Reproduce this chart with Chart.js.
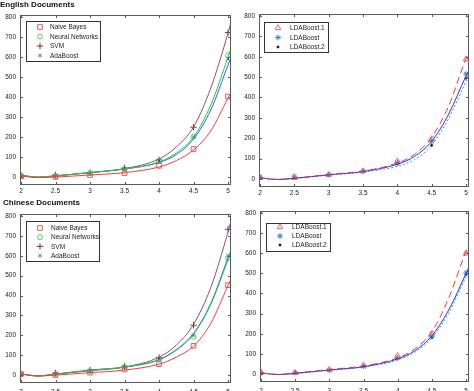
<!DOCTYPE html>
<html>
<head>
<meta charset="utf-8">
<script src="https://cdn.jsdelivr.net/npm/chart.js@4.4.1/dist/chart.umd.min.js"></script>
<style>
html, body { margin: 0; padding: 0; background: #fff; }
#page { position: relative; width: 474px; height: 391px; overflow: hidden; background: #fff; }
.panel { position: absolute; }
.title { position: absolute; font: bold 8px "Liberation Sans", Arial, sans-serif; color: #111; z-index: 2; }
</style>
</head>
<body>
<div id="page">
  <div class="title" style="left:0px;top:0px">English Documents</div>
  <div class="title" style="left:3px;top:198px">Chinese Documents</div>
  <div class="panel" style="left:0px;top:0px;width:237px;height:200px"><canvas id="enBase"></canvas></div>
  <div class="panel" style="left:237px;top:0px;width:237px;height:200px"><canvas id="enLda"></canvas></div>
  <div class="panel" style="left:0px;top:195px;width:237px;height:196px"><canvas id="zhBase"></canvas></div>
  <div class="panel" style="left:237px;top:195px;width:237px;height:196px"><canvas id="zhLda"></canvas></div>
</div>
<script>
const xMarks = [2, 2.5, 3, 3.5, 4, 4.5, 5];
const xCurve = [2, 2.25, 2.5, 3, 3.5, 4, 4.25, 4.5, 4.75, 5, 5.04];
const yTicks = [0, 100, 200, 300, 400, 500, 600, 700, 800];

// English documents, baseline classifiers
const nbEnMarks  = [3, 0, 10, 20, 56, 140, 402];
const nnEnMarks  = [5, 5, 20, 40, 80, 202, 609];
const svmEnMarks = [8, 10, 22, 45, 86, 249, 722];
const adaEnMarks = [5, 8, 20, 40, 80, 200, 590];
const nbEnCurve  = [5, -3, 0, 10, 22, 50, 82, 135, 230, 395, 420];
const nnEnCurve  = [8, 0, 6, 22, 40, 75, 120, 200, 360, 600, 640];
const svmEnCurve = [8, -2, 5, 22, 42, 90, 150, 250, 445, 720, 770];
const adaEnCurve = [8, 0, 6, 22, 40, 72, 112, 190, 335, 560, 595];

// English documents, LDABoost variants
const lda1EnMarks = [5, 5, 20, 38, 87, 196, 588];
const ldaEnMarks  = [10, 13, 20, 38, 80, 185, 516];
const lda2EnMarks = [8, 5, 18, 35, 73, 165, 495];
const lda1EnCurve = [5, -3, 3, 22, 38, 78, 120, 205, 360, 590, 615];
const ldaEnCurve  = [5, -3, 3, 20, 36, 72, 110, 185, 320, 505, 530];
const lda2EnCurve = [5, -3, 2, 18, 33, 62, 95, 165, 300, 480, 510];

// Chinese documents, baseline classifiers
const nbZhMarks  = [5, 0, 12, 28, 55, 147, 452];
const nnZhMarks  = [5, 5, 20, 40, 80, 192, 589];
const svmZhMarks = [5, 10, 25, 45, 88, 251, 733];
const adaZhMarks = [5, 8, 22, 40, 80, 200, 600];
const nbZhCurve  = [5, -5, 0, 12, 25, 55, 90, 145, 260, 450, 480];
const nnZhCurve  = [5, -4, 4, 24, 40, 76, 125, 205, 355, 580, 615];
const svmZhCurve = [5, -5, 5, 22, 40, 90, 150, 255, 440, 720, 770];
const adaZhCurve = [5, -4, 5, 25, 40, 78, 128, 210, 360, 590, 625];

// Chinese documents, LDABoost variants
const lda1ZhMarks = [8, 5, 22, 42, 90, 200, 599];
const ldaZhMarks  = [5, 8, 18, 38, 80, 187, 502];
const lda2ZhMarks = [5, 5, 18, 35, 78, 180, 495];
const lda1ZhCurve = [5, -2, 5, 22, 40, 80, 125, 210, 380, 610, 640];
const ldaZhCurve  = [5, -3, 3, 20, 36, 75, 115, 190, 320, 500, 530];
const lda2ZhCurve = [5, -3, 2, 18, 34, 70, 108, 180, 305, 485, 515];

const FONT = '"Liberation Sans", Arial, sans-serif';

// marker / line style of every series
const STYLES = {
    nb:   { label: 'Naive Bayes',     line: '#ff3838', mark: '#e65a5a', point: 'rect',     r: 3.3, fill: 'rgba(0,0,0,0)' },
    nn:   { label: 'Neural Networks', line: '#20c840', mark: '#50d070', point: 'circle',   r: 2.5, fill: 'rgba(0,0,0,0)' },
    svm:  { label: 'SVM',             line: '#94506a', mark: '#7a3424', point: 'cross',    r: 3.2, fill: 'rgba(0,0,0,0)' },
    ada:  { label: 'AdaBoost',        line: '#3060f0', mark: '#3848b8', point: 'crossRot', r: 2.3, fill: 'rgba(0,0,0,0)' },
    lda1: { label: 'LDABoost.1',      line: '#ee3535', mark: '#e86a6a', point: 'triangle', r: 3.3, fill: 'rgba(0,0,0,0)', dash: [7, 4] },
    lda:  { label: 'LDABoost',        line: '#2536e8', mark: '#3a84d4', point: 'star',     r: 2.8, fill: 'rgba(0,0,0,0)' },
    lda2: { label: 'LDABoost.2',      line: '#3a98ea', mark: '#111111', point: 'circle',   r: 1,   fill: '#111111', dash: [2, 2] }
};

function pts(xs, ys) {
    return xs.map((x, i) => ({ x: x, y: ys[i] }));
}

function buildDatasets(series) {
    var lines = [];
    var marks = [];
    for (var s of series) {
        var st = STYLES[s.key];
        lines.push({
            label: st.label + ' fit',
            data: pts(xCurve, s.curve),
            showLine: true,
            pointRadius: 0,
            borderColor: st.line,
            borderWidth: 1,
            borderDash: st.dash || [],
            cubicInterpolationMode: 'monotone',
            fill: false
        });
        marks.push({
            label: st.label,
            data: pts(xMarks, s.marks),
            showLine: false,
            pointStyle: st.point,
            pointRadius: st.r,
            pointBorderWidth: 1,
            borderColor: st.mark,
            backgroundColor: st.fill
        });
    }
    return lines.concat(marks);
}

// box round the plot with inward ticks on all four sides
const framePlugin = {
    id: 'frame',
    afterDatasetsDraw(chart) {
        const ctx = chart.ctx;
        const a = chart.chartArea;
        const xs = chart.scales.x;
        const ys = chart.scales.y;
        ctx.save();
        ctx.strokeStyle = '#5a5a5a';
        ctx.lineWidth = 1;
        ctx.strokeRect(a.left + 0.5, a.top + 0.5, a.right - a.left - 1, a.bottom - a.top - 1);
        ctx.beginPath();
        for (var t of xs.ticks) {
            var px = Math.round(xs.getPixelForValue(t.value)) + 0.5;
            ctx.moveTo(px, a.bottom); ctx.lineTo(px, a.bottom - 3);
            ctx.moveTo(px, a.top); ctx.lineTo(px, a.top + 3);
        }
        for (var t of ys.ticks) {
            var py = Math.round(ys.getPixelForValue(t.value)) + 0.5;
            ctx.moveTo(a.left, py); ctx.lineTo(a.left + 3, py);
            ctx.moveTo(a.right, py); ctx.lineTo(a.right - 3, py);
        }
        ctx.stroke();
        ctx.restore();
    }
};

// matlab style legend box inside the plot
const boxLegendPlugin = {
    id: 'boxLegend',
    afterDraw(chart, args, opts) {
        if (!opts || !opts.keys) return;
        const ctx = chart.ctx;
        ctx.save();
        ctx.fillStyle = '#fff';
        ctx.fillRect(opts.x, opts.y, opts.w, opts.h);
        ctx.strokeStyle = '#333';
        ctx.lineWidth = 1;
        ctx.strokeRect(opts.x + 0.5, opts.y + 0.5, opts.w, opts.h);
        ctx.font = '6.5px ' + FONT;
        ctx.textBaseline = 'middle';
        opts.keys.forEach((key, i) => {
            var st = STYLES[key];
            var cy = opts.rowY + i * opts.rowH;
            ctx.strokeStyle = st.mark;
            ctx.fillStyle = st.fill;
            ctx.lineWidth = 1;
            if (Chart.helpers && Chart.helpers.drawPoint) {
                Chart.helpers.drawPoint(ctx, { pointStyle: st.point, radius: st.r, borderWidth: 1, rotation: 0 }, opts.markX, cy);
            } else {
                ctx.beginPath(); ctx.arc(opts.markX, cy, st.r, 0, Math.PI * 2); ctx.stroke();
            }
            ctx.fillStyle = '#222';
            ctx.fillText(st.label, opts.textX, cy + 0.5);
        });
        ctx.restore();
    }
};

function makePanel(canvasId, geom, series, legend) {
    return new Chart(document.getElementById(canvasId), {
        type: 'scatter',
        data: { datasets: buildDatasets(series) },
        plugins: [framePlugin, boxLegendPlugin],
        options: {
            responsive: true,
            maintainAspectRatio: false,
            animation: false,
            devicePixelRatio: 1,
            layout: { padding: { left: 0, top: geom.padT, right: geom.padR, bottom: 0 } },
            plugins: {
                legend: { display: false },
                tooltip: { enabled: false },
                boxLegend: legend
            },
            scales: {
                x: {
                    type: 'linear',
                    min: geom.xMin,
                    max: geom.xMax,
                    grid: { display: false, drawTicks: false },
                    border: { display: false },
                    ticks: {
                        stepSize: 0.5,
                        includeBounds: false,
                        autoSkip: false,
                        maxRotation: 0,
                        padding: geom.xPad,
                        color: '#222',
                        font: { family: FONT, size: 6.5 },
                        callback: v => String(v)
                    },
                    afterFit: s => { s.height = geom.xH; }
                },
                y: {
                    min: -40,
                    max: 810,
                    grid: { display: false, drawTicks: false },
                    border: { display: false },
                    afterBuildTicks: s => { s.ticks = yTicks.map(v => ({ value: v })); },
                    ticks: {
                        padding: 4,
                        color: '#222',
                        font: { family: FONT, size: 6.5 },
                        callback: v => String(v)
                    },
                    afterFit: s => { s.width = geom.yW; }
                }
            }
        }
    });
}

makePanel('enBase',
    { yW: 20, padT: 15, padR: 6, xH: 15, xPad: 2, xMin: 1.985, xMax: 5.043 },
    [
        { key: 'nb', marks: nbEnMarks, curve: nbEnCurve },
        { key: 'nn', marks: nnEnMarks, curve: nnEnCurve },
        { key: 'svm', marks: svmEnMarks, curve: svmEnCurve },
        { key: 'ada', marks: adaEnMarks, curve: adaEnCurve }
    ],
    { keys: ['nb', 'nn', 'svm', 'ada'], x: 26, y: 21, w: 74, h: 40, rowY: 27, rowH: 9.5, markX: 40, textX: 50 });

makePanel('enLda',
    { yW: 22, padT: 14, padR: 0, xH: 13, xPad: 2, xMin: 1.986, xMax: 5.043 },
    [
        { key: 'lda1', marks: lda1EnMarks, curve: lda1EnCurve },
        { key: 'lda', marks: ldaEnMarks, curve: ldaEnCurve },
        { key: 'lda2', marks: lda2EnMarks, curve: lda2EnCurve }
    ],
    { keys: ['lda1', 'lda', 'lda2'], x: 27, y: 22, w: 64, h: 30, rowY: 28, rowH: 9.5, markX: 41, textX: 53 });

makePanel('zhBase',
    { yW: 20, padT: 19, padR: 6, xH: 8, xPad: 5, xMin: 1.985, xMax: 5.043 },
    [
        { key: 'nb', marks: nbZhMarks, curve: nbZhCurve },
        { key: 'nn', marks: nnZhMarks, curve: nnZhCurve },
        { key: 'svm', marks: svmZhMarks, curve: svmZhCurve },
        { key: 'ada', marks: adaZhMarks, curve: adaZhCurve }
    ],
    { keys: ['nb', 'nn', 'svm', 'ada'], x: 26, y: 26, w: 73, h: 40, rowY: 33, rowH: 9.2, markX: 40, textX: 51 });

makePanel('zhLda',
    { yW: 23, padT: 16, padR: 2, xH: 9, xPad: 5, xMin: 1.986, xMax: 5.043 },
    [
        { key: 'lda1', marks: lda1ZhMarks, curve: lda1ZhCurve },
        { key: 'lda', marks: ldaZhMarks, curve: ldaZhCurve },
        { key: 'lda2', marks: lda2ZhMarks, curve: lda2ZhCurve }
    ],
    { keys: ['lda1', 'lda', 'lda2'], x: 29, y: 28, w: 64, h: 28, rowY: 32, rowH: 9, markX: 43, textX: 55 });
</script>
</body>
</html>
